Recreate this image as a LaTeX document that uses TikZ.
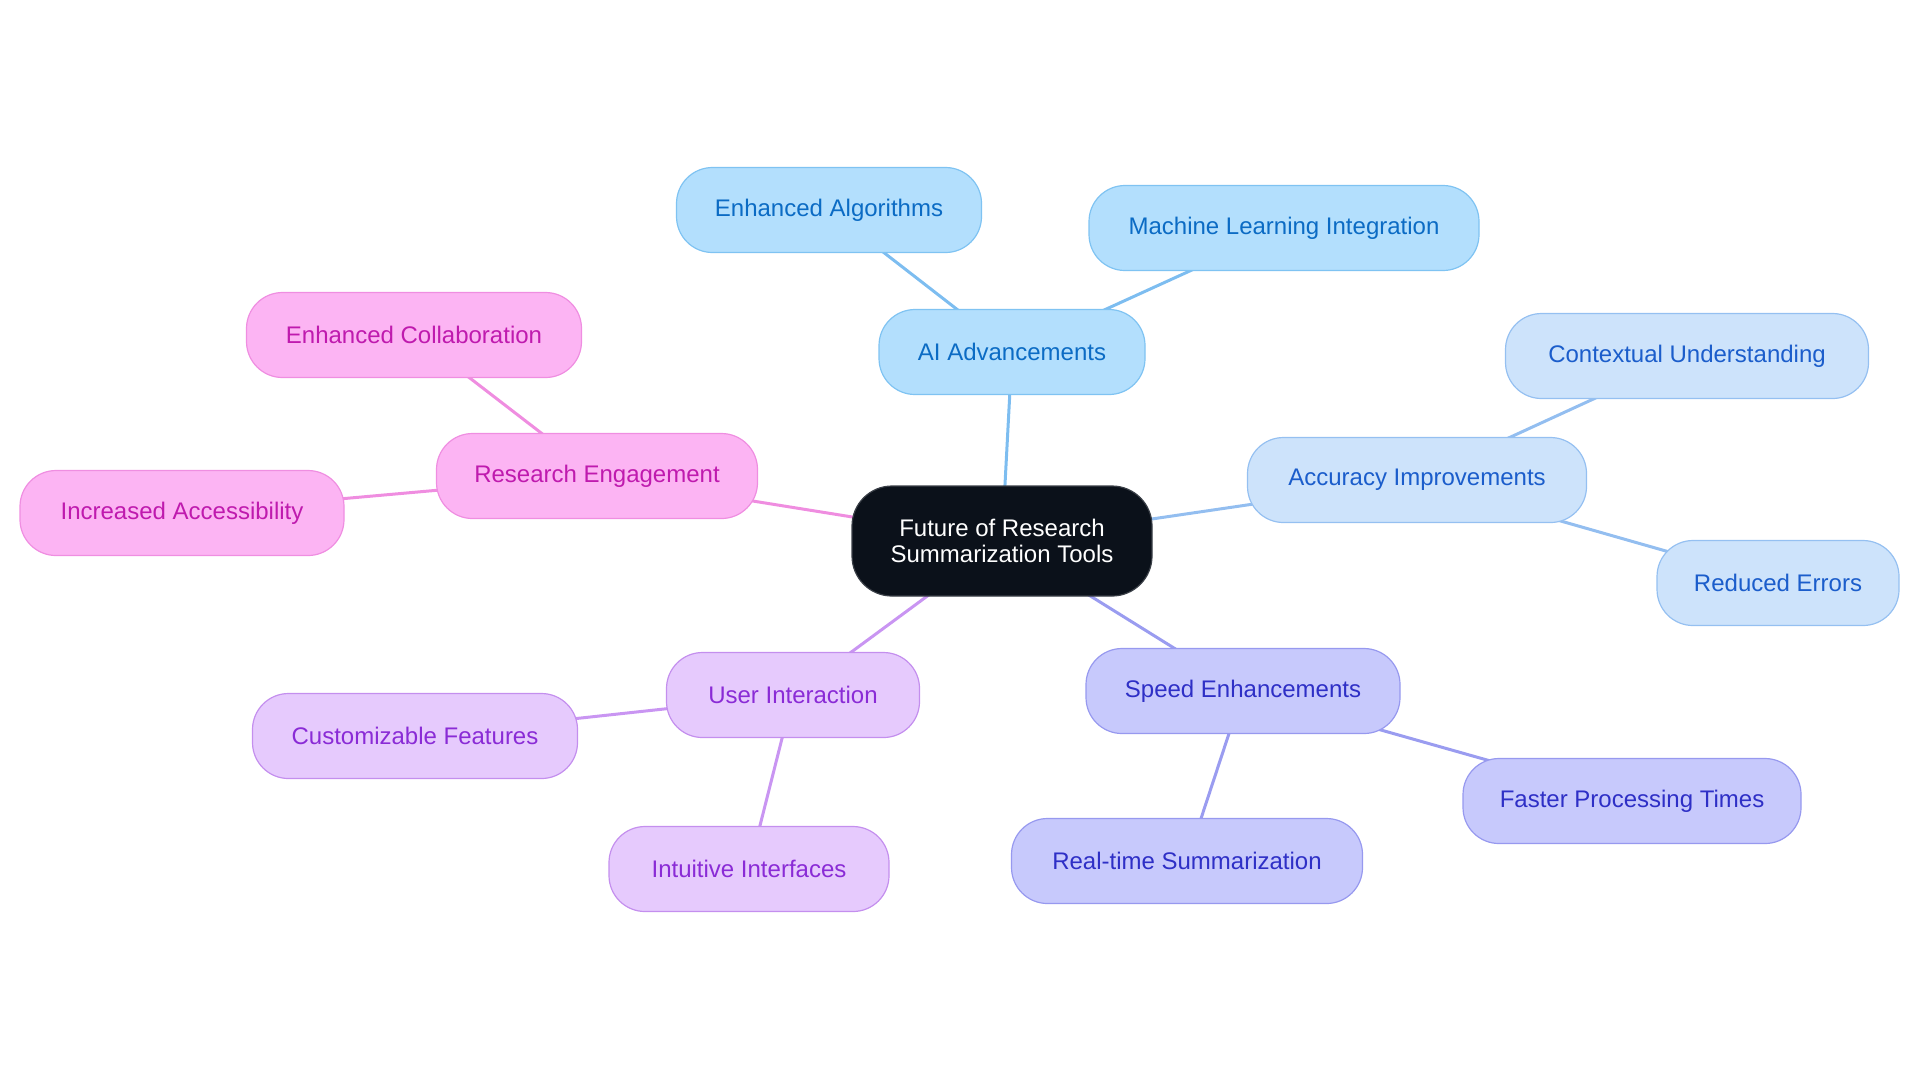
\documentclass[tikz,border=0pt]{standalone}
\usepackage{fontspec}
\setmainfont{Liberation Sans}
\usetikzlibrary{backgrounds}
\definecolor{aiF}{HTML}{B3DFFD}\definecolor{aiD}{HTML}{7FC3F2}\definecolor{aiT}{HTML}{0B6BC4}\definecolor{aiL}{HTML}{7DBDF0}
\definecolor{acF}{HTML}{CDE3FB}\definecolor{acD}{HTML}{95C0F1}\definecolor{acT}{HTML}{1B5DCB}\definecolor{acL}{HTML}{93BEF0}
\definecolor{spF}{HTML}{C7C9FC}\definecolor{spD}{HTML}{9799EF}\definecolor{spT}{HTML}{2E2FC6}\definecolor{spL}{HTML}{9A9CF0}
\definecolor{uiF}{HTML}{E6CAFD}\definecolor{uiD}{HTML}{C48FEE}\definecolor{uiT}{HTML}{8A2BD6}\definecolor{uiL}{HTML}{C995F2}
\definecolor{reF}{HTML}{FCB4F3}\definecolor{reD}{HTML}{EF8EE1}\definecolor{reT}{HTML}{BF1AAE}\definecolor{reL}{HTML}{EF8DE0}
\definecolor{ctF}{HTML}{0B111A}\definecolor{ctD}{HTML}{3A3F47}
\begin{document}
\begin{tikzpicture}[x=0.5pt,y=-0.5pt,
  bx/.style={rectangle,rounded corners=18pt,minimum height=42.5pt,inner sep=0pt,line width=0.6pt,font=\fontsize{12}{13}\selectfont,align=center},
  w/.style={minimum width=#1*0.5pt},
  ai/.style={bx,fill=aiF,draw=aiD,text=aiT},
  ac/.style={bx,fill=acF,draw=acD,text=acT},
  sp/.style={bx,fill=spF,draw=spD,text=spT},
  ui/.style={bx,fill=uiF,draw=uiD,text=uiT},
  re/.style={bx,fill=reF,draw=reD,text=reT},
  ctr/.style={bx,rounded corners=20pt,minimum height=55pt,fill=ctF,draw=ctD,text=white},
  ln/.style={line width=1.5pt}]
\useasboundingbox (0,0) rectangle (1920,1083);
\node[ctr,w=300] (c) at (1002,541) {Future of Research\\Summarization Tools};
\node[ai,w=266] (ai) at (1012,352) {AI Advancements};
\node[ai,w=305] (ea) at (829,210) {Enhanced Algorithms};
\node[ai,w=390] (ml) at (1284,228) {Machine Learning Integration};
\node[ac,w=339] (ac) at (1417,480) {Accuracy Improvements};
\node[ac,w=363] (cu) at (1687,356) {Contextual Understanding};
\node[ac,w=242] (re2) at (1778,583) {Reduced Errors};
\node[sp,w=314] (sp) at (1243,691) {Speed Enhancements};
\node[sp,w=338] (fp) at (1632,801) {Faster Processing Times};
\node[sp,w=351] (rt) at (1187,861) {Real-time Summarization};
\node[ui,w=253] (ui) at (793,695) {User Interaction};
\node[ui,w=325] (cf) at (415,736) {Customizable Features};
\node[ui,w=280] (ii) at (749,869) {Intuitive Interfaces};
\node[re,w=321] (re) at (597,476) {Research Engagement};
\node[re,w=335] (ec) at (414,335) {Enhanced Collaboration};
\node[re,w=324] (ia) at (182,513) {Increased Accessibility};
\begin{scope}[on background layer]
\draw[ln,aiL] (c.center) -- (ai.center);
\draw[ln,aiL] (ai.center) -- (ea.center);
\draw[ln,aiL] (ai.center) -- (ml.center);
\draw[ln,acL] (c.center) -- (ac.center);
\draw[ln,acL] (ac.center) -- (cu.center);
\draw[ln,acL] (ac.center) -- (re2.center);
\draw[ln,spL] (c.center) -- (sp.center);
\draw[ln,spL] (sp.center) -- (fp.center);
\draw[ln,spL] (sp.center) -- (rt.center);
\draw[ln,uiL] (c.center) -- (ui.center);
\draw[ln,uiL] (ui.center) -- (cf.center);
\draw[ln,uiL] (ui.center) -- (ii.center);
\draw[ln,reL] (c.center) -- (re.center);
\draw[ln,reL] (re.center) -- (ec.center);
\draw[ln,reL] (re.center) -- (ia.center);
\end{scope}
\end{tikzpicture}
\end{document}
